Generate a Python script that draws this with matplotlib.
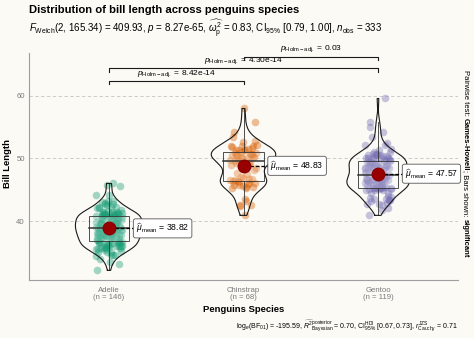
import numpy as np
import matplotlib
matplotlib.use("Agg")
import matplotlib.pyplot as plt

plt.rcParams['font.family'] = ['Liberation Sans', 'DejaVu Sans']
plt.rcParams['mathtext.fontset'] = 'custom'
plt.rcParams['mathtext.rm'] = 'Liberation Sans'
plt.rcParams['mathtext.it'] = 'Liberation Sans:italic'
plt.rcParams['mathtext.bf'] = 'Liberation Sans:bold'

species = ['Adelie', 'Chinstrap', 'Gentoo']

adelie = [39.1, 39.5, 40.3, 36.7, 39.3, 38.9, 39.2, 41.1, 38.6, 34.6,
          36.6, 38.7, 42.5, 34.4, 46.0, 37.8, 37.7, 35.9, 38.2, 38.8,
          35.3, 40.6, 40.5, 37.9, 40.5, 39.5, 37.2, 39.5, 40.9, 36.4,
          39.2, 38.8, 42.2, 37.6, 39.8, 36.5, 40.8, 36.0, 44.1, 37.0,
          39.6, 41.1, 36.0, 42.3, 39.6, 40.1, 35.0, 42.0, 34.5, 41.4,
          39.0, 40.6, 36.5, 37.6, 35.7, 41.3, 37.6, 41.1, 36.4, 41.6,
          35.5, 41.1, 35.9, 41.8, 33.5, 39.7, 39.6, 45.8, 35.5, 42.8,
          40.9, 37.2, 36.2, 42.1, 34.6, 42.9, 36.7, 35.1, 37.3, 41.3,
          36.3, 36.9, 38.3, 38.9, 35.7, 41.1, 34.0, 39.6, 36.2, 40.8,
          38.1, 40.3, 33.1, 43.2, 35.0, 41.0, 37.7, 37.8, 37.9, 39.7,
          38.6, 38.2, 38.1, 43.2, 38.1, 45.6, 39.7, 42.2, 39.6, 42.7,
          38.6, 37.3, 35.7, 41.1, 36.2, 37.7, 40.2, 41.4, 35.2, 40.6,
          38.8, 41.5, 39.0, 44.1, 38.5, 43.1, 36.8, 37.5, 38.1, 41.1,
          35.6, 40.2, 37.0, 39.7, 40.2, 40.6, 32.1, 40.7, 37.3, 39.0,
          39.2, 36.6, 36.0, 37.8, 36.0, 41.5]

chinstrap = [46.5, 50.0, 51.3, 45.4, 52.7, 45.2, 46.1, 51.3, 46.0, 51.3,
             46.6, 51.7, 47.0, 52.0, 45.9, 50.5, 50.3, 58.0, 46.4, 49.2,
             42.4, 48.5, 43.2, 50.6, 46.7, 52.0, 50.5, 49.5, 46.4, 52.8,
             40.9, 54.2, 42.5, 51.0, 49.7, 47.5, 47.6, 52.0, 46.9, 53.5,
             49.0, 46.2, 50.9, 45.5, 50.9, 50.8, 50.1, 49.0, 51.5, 49.8,
             48.1, 51.4, 45.7, 50.7, 42.5, 52.2, 45.2, 49.3, 50.2, 45.6,
             51.9, 46.8, 45.7, 55.8, 43.5, 49.6, 50.8, 50.2]

gentoo = [46.1, 50.0, 48.7, 50.0, 47.6, 46.5, 45.4, 46.7, 43.3, 46.8,
          40.9, 49.0, 45.5, 48.4, 45.8, 49.3, 42.0, 49.2, 46.2, 48.7,
          50.2, 45.1, 46.5, 46.3, 42.9, 46.1, 47.8, 48.2, 50.0, 47.3,
          42.8, 45.1, 59.6, 49.1, 48.4, 42.6, 44.4, 44.0, 48.7, 42.7,
          49.6, 45.3, 49.6, 50.5, 43.6, 45.5, 50.5, 44.9, 45.2, 46.6,
          48.5, 45.1, 50.1, 46.5, 45.0, 43.8, 45.5, 43.2, 50.4, 45.3,
          45.7, 54.3, 45.8, 49.8, 46.2, 49.5, 43.5, 50.7, 47.7, 46.4,
          48.2, 46.5, 46.4, 48.6, 47.5, 51.1, 45.2, 45.2, 49.1, 52.5,
          47.4, 50.0, 44.9, 50.8, 43.4, 51.3, 47.5, 52.1, 47.5, 52.2,
          45.5, 49.5, 44.5, 50.8, 49.4, 46.9, 48.4, 51.1, 48.5, 55.9,
          47.2, 49.1, 46.8, 41.7, 53.4, 43.3, 48.1, 50.5, 49.8, 43.5,
          51.5, 46.2, 55.1, 48.8, 47.2, 46.8, 50.4, 45.2, 49.9]

groups = [adelie, chinstrap, gentoo]
means = [38.82, 48.83, 47.57]
colors = ['#1b9e77', '#d95f02', '#7570b3']

# pairwise comparisons: (group a, group b, bracket height, label)
pairs = [(0, 1, 62.4, '8.42e-14'),
         (0, 2, 64.4, '4.30e-14'),
         (1, 2, 66.3, '0.03')]

bg = '#fbfaf5'
fig = plt.figure(figsize=(4.74, 3.38), dpi=100, facecolor=bg)
ax = fig.add_axes([29/474, 1-280/338, 429/474, 227/338], facecolor=bg)
ax.set_xlim(0.405, 3.595)
ax.set_ylim(30.56, 66.88)


def kde(v, grid):
    v = np.asarray(v)
    sd = v.std(ddof=1)
    iqr = np.subtract(*np.percentile(v, [75, 25]))
    bw = 0.9 * min(sd, iqr / 1.34) * len(v) ** -0.2
    z = (grid[:, None] - v[None, :]) / bw
    return np.exp(-0.5 * z**2).sum(axis=1) / (len(v) * bw * np.sqrt(2*np.pi))


# violins (area scaled, width 0.5)
dens = []
for g in groups:
    grid = np.linspace(min(g), max(g), 256)
    dens.append((grid, kde(g, grid)))
dmax = max(d.max() for _, d in dens)

for i, (g, (grid, d)) in enumerate(zip(groups, dens)):
    x = i + 1
    w = d / dmax * 0.25
    ax.fill_betweenx(grid, x - w, x + w, facecolor='white', alpha=0.2, zorder=1)
    ax.plot(np.r_[x - w, (x + w)[::-1], (x - w)[:1]],
            np.r_[grid, grid[::-1], grid[:1]], color='#1a1a1a', lw=0.8, zorder=4)

    # jittered points
    n = len(g)
    jit = ((np.arange(n) * 0.618034) % 1 - 0.5) * 0.2
    ax.scatter(x + jit, g, s=30, color=colors[i], alpha=0.4, lw=0, zorder=2)

    # boxplot
    q1, med, q3 = np.percentile(g, [25, 50, 75])
    iqr = q3 - q1
    arr = np.asarray(g)
    lo = arr[arr >= q1 - 1.5*iqr].min()
    hi = arr[arr <= q3 + 1.5*iqr].max()
    ax.add_patch(plt.Rectangle((x - 0.15, q1), 0.3, q3 - q1, facecolor='white',
                               alpha=0.2, zorder=3))
    ax.add_patch(plt.Rectangle((x - 0.15, q1), 0.3, q3 - q1, fill=False,
                               edgecolor='#333333', lw=0.6, zorder=3))
    ax.plot([x - 0.15, x + 0.15], [med, med], color='#333333', lw=1.1, zorder=3)
    ax.plot([x, x], [q3, hi], color='#333333', lw=0.6, zorder=3)
    ax.plot([x, x], [lo, q1], color='#333333', lw=0.6, zorder=3)

    # mean point and label
    m = means[i]
    ax.plot([x, x + 0.19], [m, m], color='black', lw=0.9, ls=(0, (3, 1.5)), zorder=5)
    ax.plot(x, m, 'o', ms=9, color='#990000', mec='#8b0000', zorder=6)
    ax.text(x + 0.2, m, r'$\widehat{\mu}_{\rm mean}$ = %.2f' % m, fontsize=6.2,
            va='center', ha='left', zorder=7,
            bbox=dict(boxstyle='round,pad=0.3,rounding_size=0.25', fc='white',
                      ec='#555555', lw=0.6))

# significance brackets
for a, b, h, lab in pairs:
    xa, xb = a + 1, b + 1
    ax.plot([xa, xa, xb, xb], [h - 0.5, h, h, h - 0.5], color='#1a1a1a', lw=0.8,
            clip_on=False, zorder=5)
    ax.text((xa + xb) / 2, h + 0.35, r'$p_{\rm Holm-adj.}$ = ' + lab, fontsize=6,
            ha='center', va='bottom', clip_on=False)

# axes styling
ax.set_yticks([40, 50, 60])
ax.yaxis.grid(True, color='#c4c4c4', ls=(0, (4, 3)), lw=0.6)
ax.set_axisbelow(True)
ax.set_xticks([1, 2, 3])
ax.set_xticklabels(['%s\n(n = %d)' % (s, len(g)) for s, g in zip(species, groups)],
                   linespacing=1.0)
ax.tick_params(length=0, labelsize=5.6, colors='#7a7a7a')
ax.tick_params(axis='x', pad=5)
ax.tick_params(axis='y', pad=3)
for side in ['top', 'right']:
    ax.spines[side].set_visible(False)
for side in ['left', 'bottom']:
    ax.spines[side].set_color('#9e9e9e')
    ax.spines[side].set_linewidth(0.8)

ax.set_xlabel('Penguins Species', fontsize=6.8, fontweight='bold', labelpad=3)
fig.text(8/474, 1 - 163/338, 'Bill Length', fontsize=6.8, fontweight='bold',
         rotation=90, va='center', ha='center')

fig.text(29/474, 1 - 10/338, 'Distribution of bill length across penguins species',
         fontsize=8.1, fontweight='bold', va='center', ha='left')
fig.text(29/474, 1 - 29/338,
         r'$F_{\rm Welch}$(2, 165.34) = 409.93, $p$ = 8.27e-65, '
         r'$\widehat{\omega_{\rm p}^2}$ = 0.83, CI$_{95\%}$ [0.79, 1.00], '
         r'$n_{\rm obs}$ = 333', fontsize=7.0, va='center', ha='left')
fig.text(458/474, 1 - 326/338,
         r'log$_e$(BF$_{01}$) = -195.59, '
         r'$\widehat{R^2}^{\rm posterior}_{\rm Bayesian}$ = 0.70, '
         r'CI$^{\rm HDI}_{95\%}$ [0.67, 0.73], $r^{\rm JZS}_{\rm Cauchy}$ = 0.71',
         fontsize=5.0, va='center', ha='right')

# vertical note on the right, pieces stacked top to bottom
note = [('Pairwise test: ', 'normal'), ('Games-Howell', 'bold'),
        ('; Bars shown: ', 'normal'), ('significant', 'bold')]
renderer = fig.canvas.get_renderer()
ypix = 338 - 70
for txt, wt in note:
    t = fig.text(465/474, ypix/338, txt, fontsize=5.5, fontweight=wt,
                 rotation=-90, ha='center', va='top')
    ypix -= t.get_window_extent(renderer).height

fig.savefig('out.png', dpi=100, facecolor=bg)
